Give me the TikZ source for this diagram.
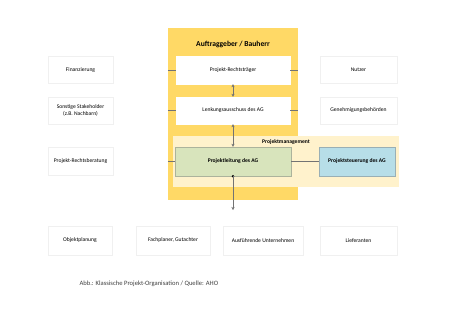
\documentclass[tikz,border=0pt]{standalone}
\usepackage{fontspec}
\setmainfont{Carlito}
\usepackage{tikz}
\usetikzlibrary{positioning,arrows.meta}
\usepackage{xcolor}
\definecolor{agyellow}{HTML}{FFD966}
\definecolor{pmcream}{HTML}{FFF2CC}
\definecolor{plgreen}{HTML}{D8E4BC}
\definecolor{psblue}{HTML}{B7DEE8}

\begin{document}
\begin{tikzpicture}[x=1pt,y=-1pt,>={Stealth[length=3pt,width=3pt]},
  sidebox/.style={draw=black!6,fill=white,minimum height=27pt,font=\fontsize{5.6}{6.6}\selectfont,align=center,inner sep=1pt},
  agbox/.style={draw=white,fill=white,minimum width=114pt,minimum height=28pt,font=\fontsize{5.6}{6.6}\selectfont},
  linkline/.style={draw=black!55,line width=0.3pt}]
\useasboundingbox (0,0) rectangle (474,335);
\node[fill=agyellow,minimum width=130pt,minimum height=172pt,inner sep=0pt] (ag) at (233,114) {};
\node[font=\fontsize{7.6}{8}\selectfont\bfseries] (agtitle) at (233,44) {Auftraggeber / Bauherr};
\node[agbox] (rt) at (233,70) {Projekt-Rechtsträger};
\node[agbox,minimum height=27pt] (la) at (233,110.5) {Lenkungsausschuss des AG};
\node[fill=pmcream,minimum width=226pt,minimum height=51pt,inner sep=0pt] (pm) at (286,161.5) {};
\node[font=\fontsize{5.6}{6.6}\selectfont\bfseries] (pmtitle) at (286,142) {Projektmanagement};
\node[draw=plgreen!70!black!80,fill=plgreen,minimum width=116pt,minimum height=29pt,font=\fontsize{5.6}{6.6}\selectfont\bfseries] (pl) at (233,161.5) {Projektleitung des AG};
\node[draw=psblue!70!black!80,fill=psblue,minimum width=76pt,minimum height=29pt,font=\fontsize{5.6}{6.6}\selectfont\bfseries] (ps) at (357,161.5) {Projektsteuerung des AG};
% Seitenspalten
\node[sidebox,minimum width=65pt] (fin) at (80.5,70) {Finanzierung};
\node[sidebox,minimum width=65pt] (sth) at (80.5,110.5) {Sonstige Stakeholder\\(z.B. Nachbarn)};
\node[sidebox,minimum width=65pt,minimum height=28pt] (prb) at (80.5,161) {Projekt-Rechtsberatung};
\node[sidebox,minimum width=77pt] (nu) at (358.5,70) {Nutzer};
\node[sidebox,minimum width=77pt] (gb) at (358.5,110.5) {Genehmigungsbehörden};
% untere Reihe
\node[sidebox,minimum width=64pt,minimum height=29pt] (op) at (80,240.5) {Objektplanung};
\node[sidebox,minimum width=74pt,minimum height=29pt] (fg) at (173,240.5) {Fachplaner, Gutachter};
\node[sidebox,minimum width=80pt,minimum height=29pt] (au) at (263,240.5) {Ausführende Unternehmen};
\node[sidebox,minimum width=77pt,minimum height=29pt] (lf) at (358.5,240.5) {Lieferanten};
\node[anchor=west,font=\fontsize{6.6}{7}\selectfont,text=black!75] (caption) at (76,284) {Abb.: Klassische Projekt-Organisation / Quelle: AHO};
\coordinate (down) at (233,210);
% Verbindungen
\draw[linkline] (ag.west |- rt) -- (rt.west);
\draw[linkline] (rt.east) -- (ag.east |- rt);
\draw[linkline] (ag.west |- la) -- (la.west);
\draw[linkline] (la.east) -- (ag.east |- la);
\draw[linkline] (ag.west |- pl) -- (pl.west);
\draw[linkline] (pl) -- (ps);
\draw[linkline,<->] (rt) -- (la);
\draw[linkline,<->] (la) -- (pl);
\fill (pl.south) circle (1.3pt);
\draw[linkline,->] (pl.south) -- (down);
\end{tikzpicture}
\end{document}
